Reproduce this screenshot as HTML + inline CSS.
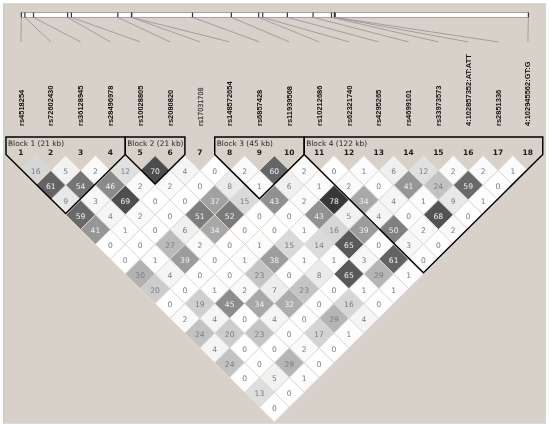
<!DOCTYPE html><html><head><meta charset="utf-8"><style>html,body{margin:0;padding:0;background:#fff;}svg{display:block;}</style></head><body>
<svg width="550" height="427" viewBox="0 0 550 427">
<rect x="0" y="0" width="550" height="427" fill="#ffffff"/>
<rect x="3" y="3.2" width="542.7" height="420.6" fill="#d8d1c9"/>
<rect x="3" y="4" width="542.7" height="1" fill="#cfcabd" opacity="0.8"/>
<rect x="3.4" y="4" width="1.2" height="419.8" fill="#cfcabd" opacity="0.6"/>
<rect x="544.8" y="3.2" width="1" height="420.6" fill="#d2cfc8" opacity="0.7"/>
<rect x="21.4" y="12.6" width="507" height="4.8" fill="#fff" stroke="#9a9a9a" stroke-width="0.9"/>
<line x1="21.4" y1="12.6" x2="21.4" y2="17.4" stroke="#333" stroke-width="1.2"/>
<line x1="24.9" y1="12.6" x2="24.9" y2="17.4" stroke="#333" stroke-width="1.2"/>
<line x1="33.5" y1="12.6" x2="33.5" y2="17.4" stroke="#333" stroke-width="1.2"/>
<line x1="67.6" y1="12.6" x2="67.6" y2="17.4" stroke="#333" stroke-width="1.2"/>
<line x1="71.4" y1="12.6" x2="71.4" y2="17.4" stroke="#333" stroke-width="1.2"/>
<line x1="117.8" y1="12.6" x2="117.8" y2="17.4" stroke="#333" stroke-width="1.2"/>
<line x1="131.5" y1="12.6" x2="131.5" y2="17.4" stroke="#333" stroke-width="1.2"/>
<line x1="131.7" y1="12.6" x2="131.7" y2="17.4" stroke="#333" stroke-width="1.2"/>
<line x1="192.5" y1="12.6" x2="192.5" y2="17.4" stroke="#333" stroke-width="1.2"/>
<line x1="231.4" y1="12.6" x2="231.4" y2="17.4" stroke="#333" stroke-width="1.2"/>
<line x1="258.7" y1="12.6" x2="258.7" y2="17.4" stroke="#333" stroke-width="1.2"/>
<line x1="262.7" y1="12.6" x2="262.7" y2="17.4" stroke="#333" stroke-width="1.2"/>
<line x1="287.4" y1="12.6" x2="287.4" y2="17.4" stroke="#333" stroke-width="1.2"/>
<line x1="313.1" y1="12.6" x2="313.1" y2="17.4" stroke="#333" stroke-width="1.2"/>
<line x1="331.5" y1="12.6" x2="331.5" y2="17.4" stroke="#333" stroke-width="1.2"/>
<line x1="334.4" y1="12.6" x2="334.4" y2="17.4" stroke="#333" stroke-width="1.2"/>
<line x1="335.2" y1="12.6" x2="335.2" y2="17.4" stroke="#333" stroke-width="1.2"/>
<line x1="528.4" y1="12.6" x2="528.4" y2="17.4" stroke="#333" stroke-width="1.2"/>
<line x1="21.4" y1="17.4" x2="20.9" y2="41.9" stroke="#9c9892" stroke-width="0.9"/>
<line x1="24.9" y1="17.4" x2="50.72" y2="41.9" stroke="#9c9892" stroke-width="0.9"/>
<line x1="33.5" y1="17.4" x2="80.54" y2="41.9" stroke="#9c9892" stroke-width="0.9"/>
<line x1="67.6" y1="17.4" x2="110.36" y2="41.9" stroke="#9c9892" stroke-width="0.9"/>
<line x1="71.4" y1="17.4" x2="140.18" y2="41.9" stroke="#9c9892" stroke-width="0.9"/>
<line x1="117.8" y1="17.4" x2="170" y2="41.9" stroke="#9c9892" stroke-width="0.9"/>
<line x1="131.5" y1="17.4" x2="199.82" y2="41.9" stroke="#9c9892" stroke-width="0.9"/>
<line x1="131.7" y1="17.4" x2="229.64" y2="41.9" stroke="#9c9892" stroke-width="0.9"/>
<line x1="192.5" y1="17.4" x2="259.46" y2="41.9" stroke="#9c9892" stroke-width="0.9"/>
<line x1="231.4" y1="17.4" x2="289.28" y2="41.9" stroke="#9c9892" stroke-width="0.9"/>
<line x1="258.7" y1="17.4" x2="319.1" y2="41.9" stroke="#9c9892" stroke-width="0.9"/>
<line x1="262.7" y1="17.4" x2="348.92" y2="41.9" stroke="#9c9892" stroke-width="0.9"/>
<line x1="287.4" y1="17.4" x2="378.74" y2="41.9" stroke="#9c9892" stroke-width="0.9"/>
<line x1="313.1" y1="17.4" x2="408.56" y2="41.9" stroke="#9c9892" stroke-width="0.9"/>
<line x1="331.5" y1="17.4" x2="438.38" y2="41.9" stroke="#9c9892" stroke-width="0.9"/>
<line x1="334.4" y1="17.4" x2="468.2" y2="41.9" stroke="#9c9892" stroke-width="0.9"/>
<line x1="335.2" y1="17.4" x2="498.02" y2="41.9" stroke="#9c9892" stroke-width="0.9"/>
<line x1="528.4" y1="17.4" x2="527.84" y2="41.9" stroke="#9c9892" stroke-width="0.9"/>
<text transform="translate(23.5 126) rotate(-90)" style="font-family:'Liberation Sans',sans-serif;font-weight:bold;fill:#111;font-size:7.5px">rs4518254</text>
<text transform="translate(53.32 126) rotate(-90)" style="font-family:'Liberation Sans',sans-serif;font-weight:bold;fill:#111;font-size:7.5px">rs72602430</text>
<text transform="translate(83.14 126) rotate(-90)" style="font-family:'Liberation Sans',sans-serif;font-weight:bold;fill:#111;font-size:7.5px">rs36128945</text>
<text transform="translate(112.96 126) rotate(-90)" style="font-family:'Liberation Sans',sans-serif;font-weight:bold;fill:#111;font-size:7.5px">rs28496978</text>
<text transform="translate(142.78 126) rotate(-90)" style="font-family:'Liberation Sans',sans-serif;font-weight:bold;fill:#111;font-size:7.5px">rs10028805</text>
<text transform="translate(172.6 126) rotate(-90)" style="font-family:'Liberation Sans',sans-serif;font-weight:bold;fill:#111;font-size:7.5px">rs2080820</text>
<text transform="translate(203.32 126) rotate(-90)" style="font-family:'DejaVu Sans',sans-serif;fill:#2a2a2a;stroke:#555;stroke-width:0.25px;font-size:6.9px" textLength="38.6" lengthAdjust="spacingAndGlyphs">rs17031708</text>
<text transform="translate(232.24 126) rotate(-90)" style="font-family:'Liberation Sans',sans-serif;font-weight:bold;fill:#111;font-size:7.5px">rs148572654</text>
<text transform="translate(262.06 126) rotate(-90)" style="font-family:'Liberation Sans',sans-serif;font-weight:bold;fill:#111;font-size:7.5px">rs6857428</text>
<text transform="translate(291.88 126) rotate(-90)" style="font-family:'Liberation Sans',sans-serif;font-weight:bold;fill:#111;font-size:7.5px">rs11939568</text>
<text transform="translate(321.7 126) rotate(-90)" style="font-family:'Liberation Sans',sans-serif;font-weight:bold;fill:#111;font-size:7.5px">rs10212686</text>
<text transform="translate(351.52 126) rotate(-90)" style="font-family:'Liberation Sans',sans-serif;font-weight:bold;fill:#111;font-size:7.5px">rs62321740</text>
<text transform="translate(381.34 126) rotate(-90)" style="font-family:'Liberation Sans',sans-serif;font-weight:bold;fill:#111;font-size:7.5px">rs4295265</text>
<text transform="translate(411.16 126) rotate(-90)" style="font-family:'Liberation Sans',sans-serif;font-weight:bold;fill:#111;font-size:7.5px">rs4699101</text>
<text transform="translate(440.98 126) rotate(-90)" style="font-family:'Liberation Sans',sans-serif;font-weight:bold;fill:#111;font-size:7.5px">rs33973573</text>
<text transform="translate(470.8 126) rotate(-90)" style="font-family:'Liberation Sans',sans-serif;font-weight:bold;fill:#111;font-size:7.5px">4:102857352:AT:ATT</text>
<text transform="translate(500.62 126) rotate(-90)" style="font-family:'Liberation Sans',sans-serif;font-weight:bold;fill:#111;font-size:7.5px">rs2851336</text>
<text transform="translate(530.44 126) rotate(-90)" style="font-family:'Liberation Sans',sans-serif;font-weight:bold;fill:#111;font-size:7.5px">4:102945562:GT:G</text>
<g stroke="#e0d9d2" stroke-width="1" stroke-linejoin="miter">
<polygon points="35.81,155.6 50.72,170.4 35.81,185.2 20.9,170.4" fill="#d6d6d6"/>
<polygon points="65.63,155.6 80.54,170.4 65.63,185.2 50.72,170.4" fill="#f2f2f2"/>
<polygon points="95.45,155.6 110.36,170.4 95.45,185.2 80.54,170.4" fill="#fafafa"/>
<polygon points="125.27,155.6 140.18,170.4 125.27,185.2 110.36,170.4" fill="#e0e0e0"/>
<polygon points="155.09,155.6 170,170.4 155.09,185.2 140.18,170.4" fill="#4d4d4d"/>
<polygon points="184.91,155.6 199.82,170.4 184.91,185.2 170,170.4" fill="#f5f5f5"/>
<polygon points="214.73,155.6 229.64,170.4 214.73,185.2 199.82,170.4" fill="#ffffff"/>
<polygon points="244.55,155.6 259.46,170.4 244.55,185.2 229.64,170.4" fill="#fafafa"/>
<polygon points="274.37,155.6 289.28,170.4 274.37,185.2 259.46,170.4" fill="#666666"/>
<polygon points="304.19,155.6 319.1,170.4 304.19,185.2 289.28,170.4" fill="#fafafa"/>
<polygon points="334.01,155.6 348.92,170.4 334.01,185.2 319.1,170.4" fill="#ffffff"/>
<polygon points="363.83,155.6 378.74,170.4 363.83,185.2 348.92,170.4" fill="#fcfcfc"/>
<polygon points="393.65,155.6 408.56,170.4 393.65,185.2 378.74,170.4" fill="#f0f0f0"/>
<polygon points="423.47,155.6 438.38,170.4 423.47,185.2 408.56,170.4" fill="#e0e0e0"/>
<polygon points="453.29,155.6 468.2,170.4 453.29,185.2 438.38,170.4" fill="#fafafa"/>
<polygon points="483.11,155.6 498.02,170.4 483.11,185.2 468.2,170.4" fill="#fafafa"/>
<polygon points="512.93,155.6 527.84,170.4 512.93,185.2 498.02,170.4" fill="#fcfcfc"/>
<polygon points="50.72,170.4 65.63,185.2 50.72,200 35.81,185.2" fill="#636363"/>
<polygon points="80.54,170.4 95.45,185.2 80.54,200 65.63,185.2" fill="#757575"/>
<polygon points="110.36,170.4 125.27,185.2 110.36,200 95.45,185.2" fill="#8a8a8a"/>
<polygon points="140.18,170.4 155.09,185.2 140.18,200 125.27,185.2" fill="#fafafa"/>
<polygon points="170,170.4 184.91,185.2 170,200 155.09,185.2" fill="#fafafa"/>
<polygon points="199.82,170.4 214.73,185.2 199.82,200 184.91,185.2" fill="#ffffff"/>
<polygon points="229.64,170.4 244.55,185.2 229.64,200 214.73,185.2" fill="#ebebeb"/>
<polygon points="259.46,170.4 274.37,185.2 259.46,200 244.55,185.2" fill="#fcfcfc"/>
<polygon points="289.28,170.4 304.19,185.2 289.28,200 274.37,185.2" fill="#f0f0f0"/>
<polygon points="319.1,170.4 334.01,185.2 319.1,200 304.19,185.2" fill="#fcfcfc"/>
<polygon points="348.92,170.4 363.83,185.2 348.92,200 334.01,185.2" fill="#fafafa"/>
<polygon points="378.74,170.4 393.65,185.2 378.74,200 363.83,185.2" fill="#ffffff"/>
<polygon points="408.56,170.4 423.47,185.2 408.56,200 393.65,185.2" fill="#969696"/>
<polygon points="438.38,170.4 453.29,185.2 438.38,200 423.47,185.2" fill="#c2c2c2"/>
<polygon points="468.2,170.4 483.11,185.2 468.2,200 453.29,185.2" fill="#696969"/>
<polygon points="498.02,170.4 512.93,185.2 498.02,200 483.11,185.2" fill="#ffffff"/>
<polygon points="65.63,185.2 80.54,200 65.63,214.8 50.72,200" fill="#e8e8e8"/>
<polygon points="95.45,185.2 110.36,200 95.45,214.8 80.54,200" fill="#f7f7f7"/>
<polygon points="125.27,185.2 140.18,200 125.27,214.8 110.36,200" fill="#4f4f4f"/>
<polygon points="155.09,185.2 170,200 155.09,214.8 140.18,200" fill="#ffffff"/>
<polygon points="184.91,185.2 199.82,200 184.91,214.8 170,200" fill="#ffffff"/>
<polygon points="214.73,185.2 229.64,200 214.73,214.8 199.82,200" fill="#a1a1a1"/>
<polygon points="244.55,185.2 259.46,200 244.55,214.8 229.64,200" fill="#d9d9d9"/>
<polygon points="274.37,185.2 289.28,200 274.37,214.8 259.46,200" fill="#919191"/>
<polygon points="304.19,185.2 319.1,200 304.19,214.8 289.28,200" fill="#fafafa"/>
<polygon points="334.01,185.2 348.92,200 334.01,214.8 319.1,200" fill="#383838"/>
<polygon points="363.83,185.2 378.74,200 363.83,214.8 348.92,200" fill="#a8a8a8"/>
<polygon points="393.65,185.2 408.56,200 393.65,214.8 378.74,200" fill="#f5f5f5"/>
<polygon points="423.47,185.2 438.38,200 423.47,214.8 408.56,200" fill="#fcfcfc"/>
<polygon points="453.29,185.2 468.2,200 453.29,214.8 438.38,200" fill="#e8e8e8"/>
<polygon points="483.11,185.2 498.02,200 483.11,214.8 468.2,200" fill="#fcfcfc"/>
<polygon points="80.54,200 95.45,214.8 80.54,229.6 65.63,214.8" fill="#696969"/>
<polygon points="110.36,200 125.27,214.8 110.36,229.6 95.45,214.8" fill="#f5f5f5"/>
<polygon points="140.18,200 155.09,214.8 140.18,229.6 125.27,214.8" fill="#fafafa"/>
<polygon points="170,200 184.91,214.8 170,229.6 155.09,214.8" fill="#ffffff"/>
<polygon points="199.82,200 214.73,214.8 199.82,229.6 184.91,214.8" fill="#7d7d7d"/>
<polygon points="229.64,200 244.55,214.8 229.64,229.6 214.73,214.8" fill="#7a7a7a"/>
<polygon points="259.46,200 274.37,214.8 259.46,229.6 244.55,214.8" fill="#ffffff"/>
<polygon points="289.28,200 304.19,214.8 289.28,229.6 274.37,214.8" fill="#ffffff"/>
<polygon points="319.1,200 334.01,214.8 319.1,229.6 304.19,214.8" fill="#919191"/>
<polygon points="348.92,200 363.83,214.8 348.92,229.6 334.01,214.8" fill="#f2f2f2"/>
<polygon points="378.74,200 393.65,214.8 378.74,229.6 363.83,214.8" fill="#f5f5f5"/>
<polygon points="408.56,200 423.47,214.8 408.56,229.6 393.65,214.8" fill="#ffffff"/>
<polygon points="438.38,200 453.29,214.8 438.38,229.6 423.47,214.8" fill="#525252"/>
<polygon points="468.2,200 483.11,214.8 468.2,229.6 453.29,214.8" fill="#ffffff"/>
<polygon points="95.45,214.8 110.36,229.6 95.45,244.4 80.54,229.6" fill="#969696"/>
<polygon points="125.27,214.8 140.18,229.6 125.27,244.4 110.36,229.6" fill="#fcfcfc"/>
<polygon points="155.09,214.8 170,229.6 155.09,244.4 140.18,229.6" fill="#ffffff"/>
<polygon points="184.91,214.8 199.82,229.6 184.91,244.4 170,229.6" fill="#f0f0f0"/>
<polygon points="214.73,214.8 229.64,229.6 214.73,244.4 199.82,229.6" fill="#a8a8a8"/>
<polygon points="244.55,214.8 259.46,229.6 244.55,244.4 229.64,229.6" fill="#ffffff"/>
<polygon points="274.37,214.8 289.28,229.6 274.37,244.4 259.46,229.6" fill="#ffffff"/>
<polygon points="304.19,214.8 319.1,229.6 304.19,244.4 289.28,229.6" fill="#fcfcfc"/>
<polygon points="334.01,214.8 348.92,229.6 334.01,244.4 319.1,229.6" fill="#d6d6d6"/>
<polygon points="363.83,214.8 378.74,229.6 363.83,244.4 348.92,229.6" fill="#9c9c9c"/>
<polygon points="393.65,214.8 408.56,229.6 393.65,244.4 378.74,229.6" fill="#808080"/>
<polygon points="423.47,214.8 438.38,229.6 423.47,244.4 408.56,229.6" fill="#fafafa"/>
<polygon points="453.29,214.8 468.2,229.6 453.29,244.4 438.38,229.6" fill="#fafafa"/>
<polygon points="110.36,229.6 125.27,244.4 110.36,259.2 95.45,244.4" fill="#ffffff"/>
<polygon points="140.18,229.6 155.09,244.4 140.18,259.2 125.27,244.4" fill="#ffffff"/>
<polygon points="170,229.6 184.91,244.4 170,259.2 155.09,244.4" fill="#bababa"/>
<polygon points="199.82,229.6 214.73,244.4 199.82,259.2 184.91,244.4" fill="#fafafa"/>
<polygon points="229.64,229.6 244.55,244.4 229.64,259.2 214.73,244.4" fill="#ffffff"/>
<polygon points="259.46,229.6 274.37,244.4 259.46,259.2 244.55,244.4" fill="#fcfcfc"/>
<polygon points="289.28,229.6 304.19,244.4 289.28,259.2 274.37,244.4" fill="#d9d9d9"/>
<polygon points="319.1,229.6 334.01,244.4 319.1,259.2 304.19,244.4" fill="#dbdbdb"/>
<polygon points="348.92,229.6 363.83,244.4 348.92,259.2 334.01,244.4" fill="#595959"/>
<polygon points="378.74,229.6 393.65,244.4 378.74,259.2 363.83,244.4" fill="#ffffff"/>
<polygon points="408.56,229.6 423.47,244.4 408.56,259.2 393.65,244.4" fill="#f7f7f7"/>
<polygon points="438.38,229.6 453.29,244.4 438.38,259.2 423.47,244.4" fill="#ffffff"/>
<polygon points="125.27,244.4 140.18,259.2 125.27,274 110.36,259.2" fill="#ffffff"/>
<polygon points="155.09,244.4 170,259.2 155.09,274 140.18,259.2" fill="#fcfcfc"/>
<polygon points="184.91,244.4 199.82,259.2 184.91,274 170,259.2" fill="#9c9c9c"/>
<polygon points="214.73,244.4 229.64,259.2 214.73,274 199.82,259.2" fill="#ffffff"/>
<polygon points="244.55,244.4 259.46,259.2 244.55,274 229.64,259.2" fill="#fcfcfc"/>
<polygon points="274.37,244.4 289.28,259.2 274.37,274 259.46,259.2" fill="#9e9e9e"/>
<polygon points="304.19,244.4 319.1,259.2 304.19,274 289.28,259.2" fill="#fcfcfc"/>
<polygon points="334.01,244.4 348.92,259.2 334.01,274 319.1,259.2" fill="#fcfcfc"/>
<polygon points="363.83,244.4 378.74,259.2 363.83,274 348.92,259.2" fill="#f7f7f7"/>
<polygon points="393.65,244.4 408.56,259.2 393.65,274 378.74,259.2" fill="#636363"/>
<polygon points="423.47,244.4 438.38,259.2 423.47,274 408.56,259.2" fill="#ffffff"/>
<polygon points="140.18,259.2 155.09,274 140.18,288.8 125.27,274" fill="#b2b2b2"/>
<polygon points="170,259.2 184.91,274 170,288.8 155.09,274" fill="#f5f5f5"/>
<polygon points="199.82,259.2 214.73,274 199.82,288.8 184.91,274" fill="#ffffff"/>
<polygon points="229.64,259.2 244.55,274 229.64,288.8 214.73,274" fill="#ffffff"/>
<polygon points="259.46,259.2 274.37,274 259.46,288.8 244.55,274" fill="#c4c4c4"/>
<polygon points="289.28,259.2 304.19,274 289.28,288.8 274.37,274" fill="#ffffff"/>
<polygon points="319.1,259.2 334.01,274 319.1,288.8 304.19,274" fill="#ebebeb"/>
<polygon points="348.92,259.2 363.83,274 348.92,288.8 334.01,274" fill="#595959"/>
<polygon points="378.74,259.2 393.65,274 378.74,288.8 363.83,274" fill="#b5b5b5"/>
<polygon points="408.56,259.2 423.47,274 408.56,288.8 393.65,274" fill="#fcfcfc"/>
<polygon points="155.09,274 170,288.8 155.09,303.6 140.18,288.8" fill="#cccccc"/>
<polygon points="184.91,274 199.82,288.8 184.91,303.6 170,288.8" fill="#ffffff"/>
<polygon points="214.73,274 229.64,288.8 214.73,303.6 199.82,288.8" fill="#fcfcfc"/>
<polygon points="244.55,274 259.46,288.8 244.55,303.6 229.64,288.8" fill="#fafafa"/>
<polygon points="274.37,274 289.28,288.8 274.37,303.6 259.46,288.8" fill="#ededed"/>
<polygon points="304.19,274 319.1,288.8 304.19,303.6 289.28,288.8" fill="#c4c4c4"/>
<polygon points="334.01,274 348.92,288.8 334.01,303.6 319.1,288.8" fill="#ffffff"/>
<polygon points="363.83,274 378.74,288.8 363.83,303.6 348.92,288.8" fill="#fcfcfc"/>
<polygon points="393.65,274 408.56,288.8 393.65,303.6 378.74,288.8" fill="#fcfcfc"/>
<polygon points="170,288.8 184.91,303.6 170,318.4 155.09,303.6" fill="#ffffff"/>
<polygon points="199.82,288.8 214.73,303.6 199.82,318.4 184.91,303.6" fill="#cfcfcf"/>
<polygon points="229.64,288.8 244.55,303.6 229.64,318.4 214.73,303.6" fill="#8c8c8c"/>
<polygon points="259.46,288.8 274.37,303.6 259.46,318.4 244.55,303.6" fill="#a8a8a8"/>
<polygon points="289.28,288.8 304.19,303.6 289.28,318.4 274.37,303.6" fill="#adadad"/>
<polygon points="319.1,288.8 334.01,303.6 319.1,318.4 304.19,303.6" fill="#ffffff"/>
<polygon points="348.92,288.8 363.83,303.6 348.92,318.4 334.01,303.6" fill="#d6d6d6"/>
<polygon points="378.74,288.8 393.65,303.6 378.74,318.4 363.83,303.6" fill="#ffffff"/>
<polygon points="184.91,303.6 199.82,318.4 184.91,333.2 170,318.4" fill="#fafafa"/>
<polygon points="214.73,303.6 229.64,318.4 214.73,333.2 199.82,318.4" fill="#f5f5f5"/>
<polygon points="244.55,303.6 259.46,318.4 244.55,333.2 229.64,318.4" fill="#ffffff"/>
<polygon points="274.37,303.6 289.28,318.4 274.37,333.2 259.46,318.4" fill="#f5f5f5"/>
<polygon points="304.19,303.6 319.1,318.4 304.19,333.2 289.28,318.4" fill="#ffffff"/>
<polygon points="334.01,303.6 348.92,318.4 334.01,333.2 319.1,318.4" fill="#b5b5b5"/>
<polygon points="363.83,303.6 378.74,318.4 363.83,333.2 348.92,318.4" fill="#f5f5f5"/>
<polygon points="199.82,318.4 214.73,333.2 199.82,348 184.91,333.2" fill="#c2c2c2"/>
<polygon points="229.64,318.4 244.55,333.2 229.64,348 214.73,333.2" fill="#cccccc"/>
<polygon points="259.46,318.4 274.37,333.2 259.46,348 244.55,333.2" fill="#c4c4c4"/>
<polygon points="289.28,318.4 304.19,333.2 289.28,348 274.37,333.2" fill="#ffffff"/>
<polygon points="319.1,318.4 334.01,333.2 319.1,348 304.19,333.2" fill="#d4d4d4"/>
<polygon points="348.92,318.4 363.83,333.2 348.92,348 334.01,333.2" fill="#fcfcfc"/>
<polygon points="214.73,333.2 229.64,348 214.73,362.8 199.82,348" fill="#f5f5f5"/>
<polygon points="244.55,333.2 259.46,348 244.55,362.8 229.64,348" fill="#ffffff"/>
<polygon points="274.37,333.2 289.28,348 274.37,362.8 259.46,348" fill="#ffffff"/>
<polygon points="304.19,333.2 319.1,348 304.19,362.8 289.28,348" fill="#fafafa"/>
<polygon points="334.01,333.2 348.92,348 334.01,362.8 319.1,348" fill="#ffffff"/>
<polygon points="229.64,348 244.55,362.8 229.64,377.6 214.73,362.8" fill="#c2c2c2"/>
<polygon points="259.46,348 274.37,362.8 259.46,377.6 244.55,362.8" fill="#ffffff"/>
<polygon points="289.28,348 304.19,362.8 289.28,377.6 274.37,362.8" fill="#b5b5b5"/>
<polygon points="319.1,348 334.01,362.8 319.1,377.6 304.19,362.8" fill="#ffffff"/>
<polygon points="244.55,362.8 259.46,377.6 244.55,392.4 229.64,377.6" fill="#ffffff"/>
<polygon points="274.37,362.8 289.28,377.6 274.37,392.4 259.46,377.6" fill="#f2f2f2"/>
<polygon points="304.19,362.8 319.1,377.6 304.19,392.4 289.28,377.6" fill="#fcfcfc"/>
<polygon points="259.46,377.6 274.37,392.4 259.46,407.2 244.55,392.4" fill="#dedede"/>
<polygon points="289.28,377.6 304.19,392.4 289.28,407.2 274.37,392.4" fill="#ffffff"/>
<polygon points="274.37,392.4 289.28,407.2 274.37,422 259.46,407.2" fill="#ffffff"/>
</g>
<g style="font-family:'DejaVu Sans',sans-serif;font-size:7.6px" text-anchor="middle">
<text x="35.81" y="174.2" fill="#7c7c7c">16</text>
<text x="65.63" y="174.2" fill="#7c7c7c">5</text>
<text x="95.45" y="174.2" fill="#7c7c7c">2</text>
<text x="125.27" y="174.2" fill="#7c7c7c">12</text>
<text x="155.09" y="174.2" fill="#f0f0f0">70</text>
<text x="184.91" y="174.2" fill="#7c7c7c">4</text>
<text x="214.73" y="174.2" fill="#7c7c7c">0</text>
<text x="244.55" y="174.2" fill="#7c7c7c">2</text>
<text x="274.37" y="174.2" fill="#f0f0f0">60</text>
<text x="304.19" y="174.2" fill="#7c7c7c">2</text>
<text x="334.01" y="174.2" fill="#7c7c7c">0</text>
<text x="363.83" y="174.2" fill="#7c7c7c">1</text>
<text x="393.65" y="174.2" fill="#7c7c7c">6</text>
<text x="423.47" y="174.2" fill="#7c7c7c">12</text>
<text x="453.29" y="174.2" fill="#7c7c7c">2</text>
<text x="483.11" y="174.2" fill="#7c7c7c">2</text>
<text x="512.93" y="174.2" fill="#7c7c7c">1</text>
<text x="50.72" y="189" fill="#f0f0f0">61</text>
<text x="80.54" y="189" fill="#f0f0f0">54</text>
<text x="110.36" y="189" fill="#f0f0f0">46</text>
<text x="140.18" y="189" fill="#7c7c7c">2</text>
<text x="170" y="189" fill="#7c7c7c">2</text>
<text x="199.82" y="189" fill="#7c7c7c">0</text>
<text x="229.64" y="189" fill="#7c7c7c">8</text>
<text x="259.46" y="189" fill="#7c7c7c">1</text>
<text x="289.28" y="189" fill="#7c7c7c">6</text>
<text x="319.1" y="189" fill="#7c7c7c">1</text>
<text x="348.92" y="189" fill="#7c7c7c">2</text>
<text x="378.74" y="189" fill="#7c7c7c">0</text>
<text x="408.56" y="189" fill="#f0f0f0">41</text>
<text x="438.38" y="189" fill="#7c7c7c">24</text>
<text x="468.2" y="189" fill="#f0f0f0">59</text>
<text x="498.02" y="189" fill="#7c7c7c">0</text>
<text x="65.63" y="203.8" fill="#7c7c7c">9</text>
<text x="95.45" y="203.8" fill="#7c7c7c">3</text>
<text x="125.27" y="203.8" fill="#f0f0f0">69</text>
<text x="155.09" y="203.8" fill="#7c7c7c">0</text>
<text x="184.91" y="203.8" fill="#7c7c7c">0</text>
<text x="214.73" y="203.8" fill="#f0f0f0">37</text>
<text x="244.55" y="203.8" fill="#7c7c7c">15</text>
<text x="274.37" y="203.8" fill="#f0f0f0">43</text>
<text x="304.19" y="203.8" fill="#7c7c7c">2</text>
<text x="334.01" y="203.8" fill="#f0f0f0">78</text>
<text x="363.83" y="203.8" fill="#f0f0f0">34</text>
<text x="393.65" y="203.8" fill="#7c7c7c">4</text>
<text x="423.47" y="203.8" fill="#7c7c7c">1</text>
<text x="453.29" y="203.8" fill="#7c7c7c">9</text>
<text x="483.11" y="203.8" fill="#7c7c7c">1</text>
<text x="80.54" y="218.6" fill="#f0f0f0">59</text>
<text x="110.36" y="218.6" fill="#7c7c7c">4</text>
<text x="140.18" y="218.6" fill="#7c7c7c">2</text>
<text x="170" y="218.6" fill="#7c7c7c">0</text>
<text x="199.82" y="218.6" fill="#f0f0f0">51</text>
<text x="229.64" y="218.6" fill="#f0f0f0">52</text>
<text x="259.46" y="218.6" fill="#7c7c7c">0</text>
<text x="289.28" y="218.6" fill="#7c7c7c">0</text>
<text x="319.1" y="218.6" fill="#f0f0f0">43</text>
<text x="348.92" y="218.6" fill="#7c7c7c">5</text>
<text x="378.74" y="218.6" fill="#7c7c7c">4</text>
<text x="408.56" y="218.6" fill="#7c7c7c">0</text>
<text x="438.38" y="218.6" fill="#f0f0f0">68</text>
<text x="468.2" y="218.6" fill="#7c7c7c">0</text>
<text x="95.45" y="233.4" fill="#f0f0f0">41</text>
<text x="125.27" y="233.4" fill="#7c7c7c">1</text>
<text x="155.09" y="233.4" fill="#7c7c7c">0</text>
<text x="184.91" y="233.4" fill="#7c7c7c">6</text>
<text x="214.73" y="233.4" fill="#f0f0f0">34</text>
<text x="244.55" y="233.4" fill="#7c7c7c">0</text>
<text x="274.37" y="233.4" fill="#7c7c7c">0</text>
<text x="304.19" y="233.4" fill="#7c7c7c">1</text>
<text x="334.01" y="233.4" fill="#7c7c7c">16</text>
<text x="363.83" y="233.4" fill="#f0f0f0">39</text>
<text x="393.65" y="233.4" fill="#f0f0f0">50</text>
<text x="423.47" y="233.4" fill="#7c7c7c">2</text>
<text x="453.29" y="233.4" fill="#7c7c7c">2</text>
<text x="110.36" y="248.2" fill="#7c7c7c">0</text>
<text x="140.18" y="248.2" fill="#7c7c7c">0</text>
<text x="170" y="248.2" fill="#7c7c7c">27</text>
<text x="199.82" y="248.2" fill="#7c7c7c">2</text>
<text x="229.64" y="248.2" fill="#7c7c7c">0</text>
<text x="259.46" y="248.2" fill="#7c7c7c">1</text>
<text x="289.28" y="248.2" fill="#7c7c7c">15</text>
<text x="319.1" y="248.2" fill="#7c7c7c">14</text>
<text x="348.92" y="248.2" fill="#f0f0f0">65</text>
<text x="378.74" y="248.2" fill="#7c7c7c">0</text>
<text x="408.56" y="248.2" fill="#7c7c7c">3</text>
<text x="438.38" y="248.2" fill="#7c7c7c">0</text>
<text x="125.27" y="263" fill="#7c7c7c">0</text>
<text x="155.09" y="263" fill="#7c7c7c">1</text>
<text x="184.91" y="263" fill="#f0f0f0">39</text>
<text x="214.73" y="263" fill="#7c7c7c">0</text>
<text x="244.55" y="263" fill="#7c7c7c">1</text>
<text x="274.37" y="263" fill="#f0f0f0">38</text>
<text x="304.19" y="263" fill="#7c7c7c">1</text>
<text x="334.01" y="263" fill="#7c7c7c">1</text>
<text x="363.83" y="263" fill="#7c7c7c">3</text>
<text x="393.65" y="263" fill="#f0f0f0">61</text>
<text x="423.47" y="263" fill="#7c7c7c">0</text>
<text x="140.18" y="277.8" fill="#7c7c7c">30</text>
<text x="170" y="277.8" fill="#7c7c7c">4</text>
<text x="199.82" y="277.8" fill="#7c7c7c">0</text>
<text x="229.64" y="277.8" fill="#7c7c7c">0</text>
<text x="259.46" y="277.8" fill="#7c7c7c">23</text>
<text x="289.28" y="277.8" fill="#7c7c7c">0</text>
<text x="319.1" y="277.8" fill="#7c7c7c">8</text>
<text x="348.92" y="277.8" fill="#f0f0f0">65</text>
<text x="378.74" y="277.8" fill="#7c7c7c">29</text>
<text x="408.56" y="277.8" fill="#7c7c7c">1</text>
<text x="155.09" y="292.6" fill="#7c7c7c">20</text>
<text x="184.91" y="292.6" fill="#7c7c7c">0</text>
<text x="214.73" y="292.6" fill="#7c7c7c">1</text>
<text x="244.55" y="292.6" fill="#7c7c7c">2</text>
<text x="274.37" y="292.6" fill="#7c7c7c">7</text>
<text x="304.19" y="292.6" fill="#7c7c7c">23</text>
<text x="334.01" y="292.6" fill="#7c7c7c">0</text>
<text x="363.83" y="292.6" fill="#7c7c7c">1</text>
<text x="393.65" y="292.6" fill="#7c7c7c">1</text>
<text x="170" y="307.4" fill="#7c7c7c">0</text>
<text x="199.82" y="307.4" fill="#7c7c7c">19</text>
<text x="229.64" y="307.4" fill="#f0f0f0">45</text>
<text x="259.46" y="307.4" fill="#f0f0f0">34</text>
<text x="289.28" y="307.4" fill="#f0f0f0">32</text>
<text x="319.1" y="307.4" fill="#7c7c7c">0</text>
<text x="348.92" y="307.4" fill="#7c7c7c">16</text>
<text x="378.74" y="307.4" fill="#7c7c7c">0</text>
<text x="184.91" y="322.2" fill="#7c7c7c">2</text>
<text x="214.73" y="322.2" fill="#7c7c7c">4</text>
<text x="244.55" y="322.2" fill="#7c7c7c">0</text>
<text x="274.37" y="322.2" fill="#7c7c7c">4</text>
<text x="304.19" y="322.2" fill="#7c7c7c">0</text>
<text x="334.01" y="322.2" fill="#7c7c7c">29</text>
<text x="363.83" y="322.2" fill="#7c7c7c">4</text>
<text x="199.82" y="337" fill="#7c7c7c">24</text>
<text x="229.64" y="337" fill="#7c7c7c">20</text>
<text x="259.46" y="337" fill="#7c7c7c">23</text>
<text x="289.28" y="337" fill="#7c7c7c">0</text>
<text x="319.1" y="337" fill="#7c7c7c">17</text>
<text x="348.92" y="337" fill="#7c7c7c">1</text>
<text x="214.73" y="351.8" fill="#7c7c7c">4</text>
<text x="244.55" y="351.8" fill="#7c7c7c">0</text>
<text x="274.37" y="351.8" fill="#7c7c7c">0</text>
<text x="304.19" y="351.8" fill="#7c7c7c">2</text>
<text x="334.01" y="351.8" fill="#7c7c7c">0</text>
<text x="229.64" y="366.6" fill="#7c7c7c">24</text>
<text x="259.46" y="366.6" fill="#7c7c7c">0</text>
<text x="289.28" y="366.6" fill="#7c7c7c">29</text>
<text x="319.1" y="366.6" fill="#7c7c7c">0</text>
<text x="244.55" y="381.4" fill="#7c7c7c">0</text>
<text x="274.37" y="381.4" fill="#7c7c7c">5</text>
<text x="304.19" y="381.4" fill="#7c7c7c">1</text>
<text x="259.46" y="396.2" fill="#7c7c7c">13</text>
<text x="289.28" y="396.2" fill="#7c7c7c">0</text>
<text x="274.37" y="411" fill="#7c7c7c">0</text>
</g>
<g style="font-family:'DejaVu Sans',sans-serif;font-weight:bold;font-size:7.5px" fill="#1a1a1a" text-anchor="middle">
<text x="20.9" y="155.1">1</text>
<text x="50.72" y="155.1">2</text>
<text x="80.54" y="155.1">3</text>
<text x="110.36" y="155.1">4</text>
<text x="140.18" y="155.1">5</text>
<text x="170" y="155.1">6</text>
<text x="199.82" y="155.1">7</text>
<text x="229.64" y="155.1">8</text>
<text x="259.46" y="155.1">9</text>
<text x="289.28" y="155.1">10</text>
<text x="319.1" y="155.1">11</text>
<text x="348.92" y="155.1">12</text>
<text x="378.74" y="155.1">13</text>
<text x="408.56" y="155.1">14</text>
<text x="438.38" y="155.1">15</text>
<text x="468.2" y="155.1">16</text>
<text x="498.02" y="155.1">17</text>
<text x="527.84" y="155.1">18</text>
</g>
<g fill="none" stroke="#000" stroke-width="1.45" stroke-linejoin="miter">
<polygon points="5.99,137 125.27,137 125.27,154.4 65.63,213.6 5.99,154.4"/>
<polygon points="125.27,137 184.91,137 184.91,154.4 155.09,184 125.27,154.4"/>
<polygon points="214.73,137 304.19,137 304.19,154.4 259.46,198.8 214.73,154.4"/>
<polygon points="304.19,137 542.75,137 542.75,154.4 423.47,272.8 304.19,154.4"/>
</g>
<g style="font-family:'DejaVu Sans',sans-serif;font-size:7.45px" fill="#262626">
<text x="7.99" y="145.8">Block 1 (21 kb)</text>
<text x="127.27" y="145.8">Block 2 (21 kb)</text>
<text x="216.73" y="145.8">Block 3 (45 kb)</text>
<text x="306.19" y="145.8">Block 4 (122 kb)</text>
</g>
</svg></body></html>
